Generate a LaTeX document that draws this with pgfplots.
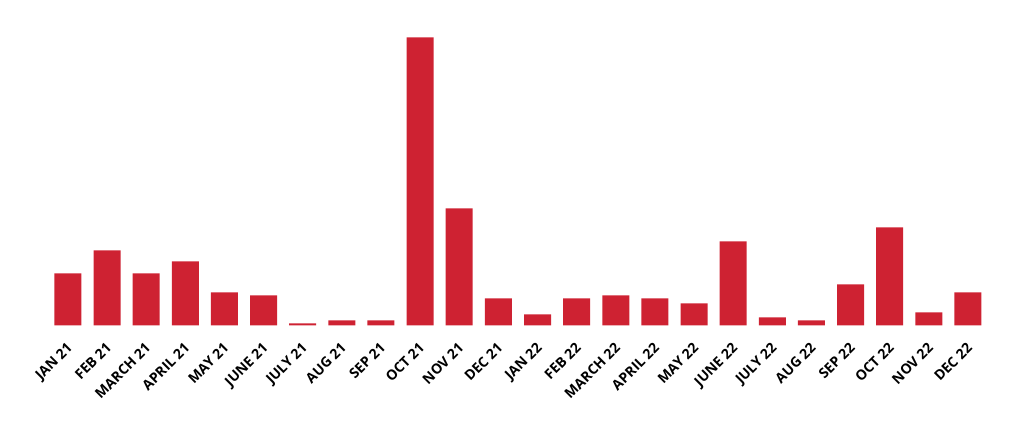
\documentclass[border=0pt]{standalone}
\usepackage{pgfplots}
\pgfplotsset{compat=1.18}
\usepackage{fontspec}
\setmainfont{Open Sans}
\definecolor{barred}{RGB}{206,34,50}
\begin{document}
\begin{tikzpicture}[x=1pt,y=1pt]
\begin{axis}[
  at={(0,0)}, anchor=south west,
  scale only axis,
  width=704.3pt, height=225pt,
  xmin=-0.5, xmax=23.5, ymin=0, ymax=300,
  axis x line=bottom,
  axis line style={draw=none},
  hide y axis,
  ytick=\empty,
  xtick={0,...,23},
  xticklabels={JAN 21,FEB 21,MARCH 21,APRIL 21,MAY 21,JUNE 21,JULY 21,AUG 21,SEP 21,OCT 21,NOV 21,DEC 21,JAN 22,FEB 22,MARCH 22,APRIL 22,MAY 22,JUNE 22,JULY 22,AUG 22,SEP 22,OCT 22,NOV 22,DEC 22},
  xticklabel style={shift={(-1.5pt,-12pt)}, rotate=45, anchor=north east, font=\bfseries\fontsize{10.5}{12}\selectfont, text=black, inner sep=0pt},
  major tick length=0pt,
  tick style={draw=none},
  clip=false,
]
\addplot[ybar, bar width=20.25pt, fill=barred, draw=none] coordinates {
(0,52) (1,75) (2,52) (3,64) (4,33) (5,30) (6,2) (7,5) (8,5) (9,288) (10,117) (11,27)
(12,11) (13,27) (14,30) (15,27) (16,22) (17,84) (18,8) (19,5) (20,41) (21,98) (22,13) (23,33)
};
\end{axis}
\path[use as bounding box] (-36.3pt,-72.5pt) rectangle (731.7pt,244pt);
\end{tikzpicture}
\end{document}
